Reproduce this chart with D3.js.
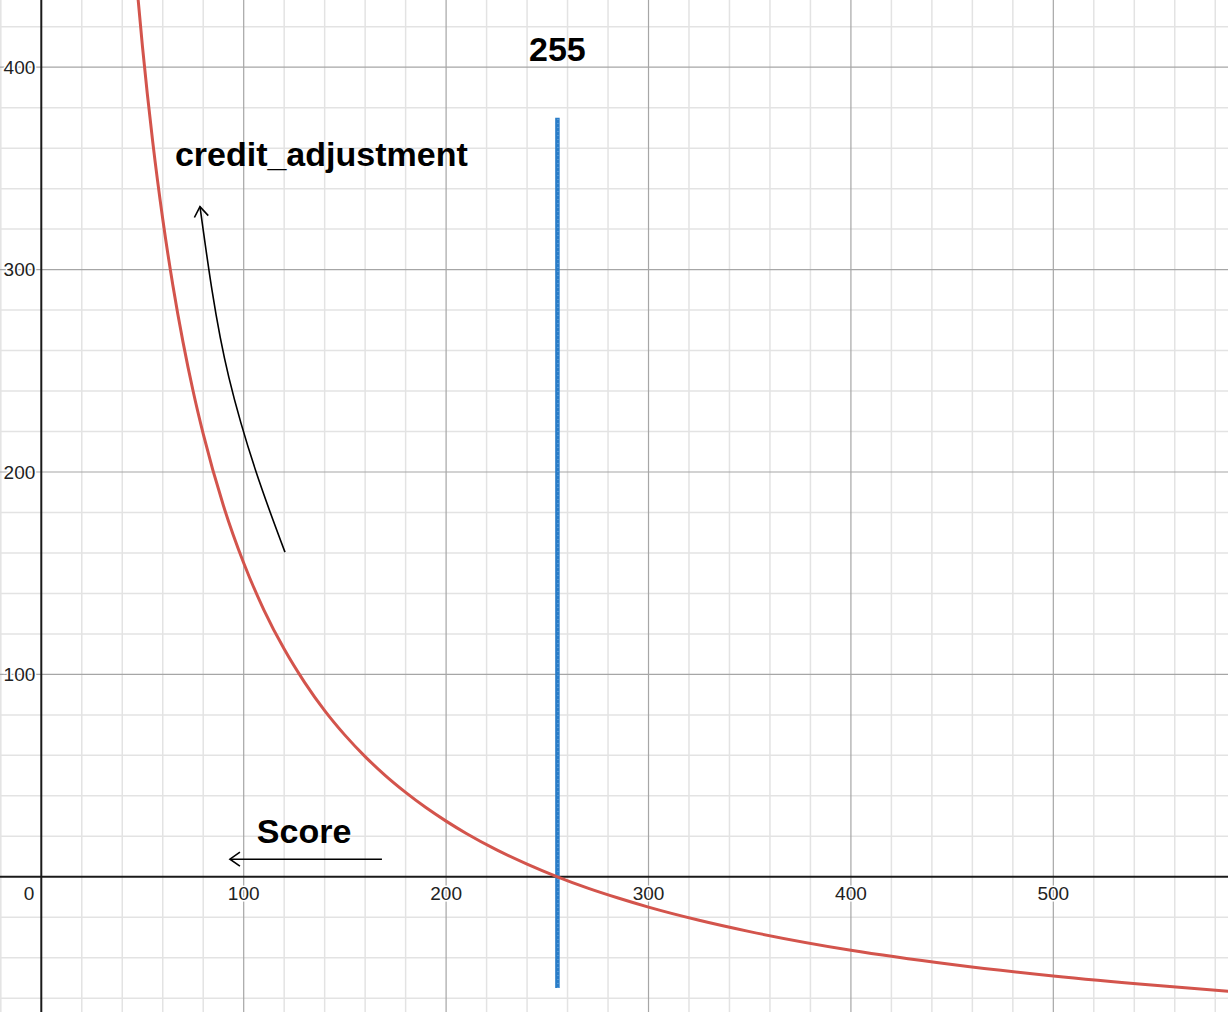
<!DOCTYPE html>
<html>
<head>
<meta charset="utf-8">
<script src="https://cdn.jsdelivr.net/npm/d3@7"></script>
<style>
  html, body { margin: 0; padding: 0; background: #fff; }
  svg { display: block; font-family: "Liberation Sans", Arial, Helvetica, sans-serif; }
</style>
</head>
<body>
<div class="graph"></div>
<script>
// data
const scoreX = [47, 50, 55, 60, 65, 70, 75, 80, 90, 100, 110, 120, 130, 140, 150, 160, 170, 180, 190, 200, 210, 225, 240, 255, 270, 285, 300, 325, 350, 400, 450, 500, 550, 590];
const adjustY = [442.6, 410, 363.6, 325, 292.3, 264.3, 240, 218.8, 183.3, 155, 131.8, 112.5, 96.2, 82.1, 70, 59.4, 50, 41.7, 34.2, 27.5, 21.4, 13.3, 6.3, 0, -5.6, -10.5, -15, -21.5, -27.1, -36.3, -43.3, -49, -53.6, -56.8];

const markerX = 255;
const markerY = [-55, 375];

const xTicks = [100, 200, 300, 400, 500];
const yTicks = [100, 200, 300, 400];

// annotations (data coords)
const labels = [
    { text: "255", x: 255, y: 403, anchor: "middle" },
    { text: "credit_adjustment", x: 66, y: 351, anchor: "start" },
    { text: "Score", x: 106.5, y: 16.6, anchor: "start" }
];
const scoreArrow = [[93.2, 8.7], [168.3, 8.7]];
const adjustArrow = [[78.4, 331.1], [84.3, 290.1], [92.7, 246.6], [106.1, 200.1], [120.4, 160.4]];

// size
const width = 1228;
const height = 1012;

const svg = d3.select(".graph")
    .append("svg")
    .attr("width", width)
    .attr("height", height)

// scales (100 units ~ 202.4px both ways)
const xScale = d3.scaleLinear()
    .domain([-20.4, 586.3])
    .range([0, width])

const yScale = d3.scaleLinear()
    .domain([433.2, -66.8])
    .range([0, height])

// arrow head
svg.append("defs").append("marker")
    .attr("id", "head")
    .attr("viewBox", "-12 -8 14 16")
    .attr("refX", 0)
    .attr("refY", 0)
    .attr("markerWidth", 14)
    .attr("markerHeight", 16)
    .attr("markerUnits", "userSpaceOnUse")
    .attr("orient", "auto-start-reverse")
    .append("path")
    .attr("d", "M-10,-7 L0,0 L-10,7")
    .attr("fill", "none")
    .attr("stroke", "#000")
    .attr("stroke-width", 1.6)

// grid
const minorX = d3.range(-20, 600, 20).filter(v => v % 100 != 0);
const minorY = d3.range(-60, 440, 20).filter(v => v % 100 != 0);
const majorX = d3.range(100, 600, 100);
const majorY = d3.range(100, 500, 100);

const grid = svg.append("g")

grid.selectAll("line.minx")
    .data(minorX)
    .join("line")
    .attr("class", "minx")
    .attr("x1", d => xScale(d)).attr("x2", d => xScale(d))
    .attr("y1", 0).attr("y2", height)
    .attr("stroke", "#e3e3e3")
    .attr("stroke-width", 1.5)

grid.selectAll("line.miny")
    .data(minorY)
    .join("line")
    .attr("class", "miny")
    .attr("y1", d => yScale(d)).attr("y2", d => yScale(d))
    .attr("x1", 0).attr("x2", width)
    .attr("stroke", "#e3e3e3")
    .attr("stroke-width", 1.5)

grid.selectAll("line.majx")
    .data(majorX)
    .join("line")
    .attr("class", "majx")
    .attr("x1", d => xScale(d)).attr("x2", d => xScale(d))
    .attr("y1", 0).attr("y2", height)
    .attr("stroke", "#a6a6a6")
    .attr("stroke-width", 1.2)

grid.selectAll("line.majy")
    .data(majorY)
    .join("line")
    .attr("class", "majy")
    .attr("y1", d => yScale(d)).attr("y2", d => yScale(d))
    .attr("x1", 0).attr("x2", width)
    .attr("stroke", "#a6a6a6")
    .attr("stroke-width", 1.2)

// axes
svg.append("line")
    .attr("x1", 0).attr("x2", width)
    .attr("y1", yScale(0)).attr("y2", yScale(0))
    .attr("stroke", "#1a1a1a")
    .attr("stroke-width", 2)

svg.append("line")
    .attr("x1", xScale(0)).attr("x2", xScale(0))
    .attr("y1", 0).attr("y2", height)
    .attr("stroke", "#1a1a1a")
    .attr("stroke-width", 2)

// tick labels
const tickText = svg.append("g")
    .attr("font-size", 19)
    .attr("fill", "#222")
    .attr("stroke", "#fff")
    .attr("stroke-width", 3)
    .attr("paint-order", "stroke")

tickText.selectAll("text.xt")
    .data(xTicks)
    .join("text")
    .attr("class", "xt")
    .attr("x", d => xScale(d))
    .attr("y", yScale(0) + 23)
    .attr("text-anchor", "middle")
    .text(d => d)

tickText.selectAll("text.yt")
    .data(yTicks)
    .join("text")
    .attr("class", "yt")
    .attr("x", xScale(0) - 6)
    .attr("y", d => yScale(d))
    .attr("dy", "0.36em")
    .attr("text-anchor", "end")
    .text(d => d)

tickText.append("text")
    .attr("x", xScale(0) - 7)
    .attr("y", yScale(0) + 23)
    .attr("text-anchor", "end")
    .text("0")

// blue marker line at 255
svg.append("line")
    .attr("x1", xScale(markerX)).attr("x2", xScale(markerX))
    .attr("y1", yScale(markerY[0])).attr("y2", yScale(markerY[1]))
    .attr("stroke", "#2a7dc8")
    .attr("stroke-width", 4.5)

svg.append("line")
    .attr("x1", xScale(markerX) + 0.5).attr("x2", xScale(markerX) + 0.5)
    .attr("y1", yScale(markerY[0])).attr("y2", yScale(markerY[1]))
    .attr("stroke", "#5fa0db")
    .attr("stroke-width", 1.5)
    .attr("stroke-dasharray", "1 3")

// red curve
const line = d3.line()
    .x((d, i) => xScale(scoreX[i]))
    .y(d => yScale(d))
    .curve(d3.curveMonotoneX)

svg.append("path")
    .datum(adjustY)
    .attr("d", line)
    .attr("fill", "none")
    .attr("stroke", "#d3544c")
    .attr("stroke-width", 3)

// annotation arrows
svg.append("path")
    .attr("d", d3.line().x(d => xScale(d[0])).y(d => yScale(d[1]))(scoreArrow))
    .attr("fill", "none")
    .attr("stroke", "#000")
    .attr("stroke-width", 1.6)
    .attr("marker-start", "url(#head)")

svg.append("path")
    .attr("d", d3.line().x(d => xScale(d[0])).y(d => yScale(d[1])).curve(d3.curveNatural)(adjustArrow))
    .attr("fill", "none")
    .attr("stroke", "#000")
    .attr("stroke-width", 1.6)
    .attr("marker-start", "url(#head)")

// labels
svg.selectAll("text.lab")
    .data(labels)
    .join("text")
    .attr("class", "lab")
    .attr("x", d => xScale(d.x))
    .attr("y", d => yScale(d.y))
    .attr("text-anchor", d => d.anchor)
    .attr("font-size", 34)
    .attr("font-weight", "bold")
    .attr("fill", "#000")
    .text(d => d.text)
</script>
</body>
</html>
